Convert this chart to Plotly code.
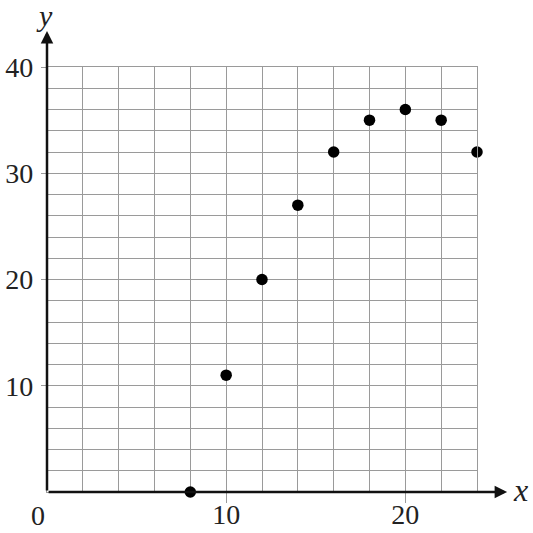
import plotly.graph_objects as go

# data
xs=[8,10,12,14,16,18,20,22,24]
ys=[0,11,20,27,32,35,36,35,32]
xtickvals=[10,20]
ytickvals=[10,20,30,40]

serif='Liberation Serif'

fig=go.Figure()
fig.add_trace(go.Scatter(x=xs,y=ys,
                         mode='markers',
                         marker={'size':11.5,'color':'black'},
                         cliponaxis=False,
                         showlegend=False,
                         hoverinfo='x+y'))

axis_common={'showgrid':True,
             'gridcolor':'#9a9a9a',
             'gridwidth':1.3,
             'zeroline':False,
             'showline':True,
             'mirror':True,
             'linecolor':'#9a9a9a',
             'linewidth':1.3,
             'ticks':'outside',
             'tickcolor':'#9a9a9a',
             'tickwidth':1.3,
             'tickfont':{'family':serif,'size':28,'color':'#222'},
             'automargin':False,
             'fixedrange':True,
             'minor':{'dtick':2,'showgrid':True,'gridcolor':'#9a9a9a','gridwidth':1.3,'ticks':''}}

fig.update_layout(
    width=533,height=533,
    template='plotly_white',
    plot_bgcolor='white',
    paper_bgcolor='white',
    margin={'l':47,'r':56,'t':67,'b':41},
    xaxis={**axis_common,'range':[0,24],'tickvals':xtickvals,'ticklen':10,'ticklabelstandoff':-13},
    yaxis={**axis_common,'range':[0,40],'tickvals':ytickvals,'ticklen':5,'ticklabelstandoff':2},
    font={'family':serif,'color':'#222'},
)

# axes with arrowheads
fig.add_annotation(x=0,y=1.085,xref='paper',yref='paper',ax=0,ay=461,text='',
                   showarrow=True,arrowhead=2,arrowsize=1,arrowwidth=2.5,arrowcolor='#111')
fig.add_annotation(x=1.07,y=0,xref='paper',yref='paper',ax=-460,ay=0,text='',
                   showarrow=True,arrowhead=2,arrowsize=1,arrowwidth=2.5,arrowcolor='#111')

# labels
fig.add_annotation(x=-0.021,y=-0.056,xref='paper',yref='paper',text='0',showarrow=False,
                   font={'family':serif,'size':28,'color':'#222'},xanchor='center',yanchor='middle')
fig.add_annotation(x=-0.006,y=1.122,xref='paper',yref='paper',text='<i>y</i>',showarrow=False,
                   font={'family':serif,'size':30,'color':'#222'},xanchor='center',yanchor='middle')
fig.add_annotation(x=1.1,y=0.005,xref='paper',yref='paper',text='<i>x</i>',showarrow=False,
                   font={'family':serif,'size':32,'color':'#222'},xanchor='center',yanchor='middle')

fig.write_html('out.html',config={'displayModeBar':False},
               post_script="document.body.style.margin='0';document.body.style.overflow='hidden';")
